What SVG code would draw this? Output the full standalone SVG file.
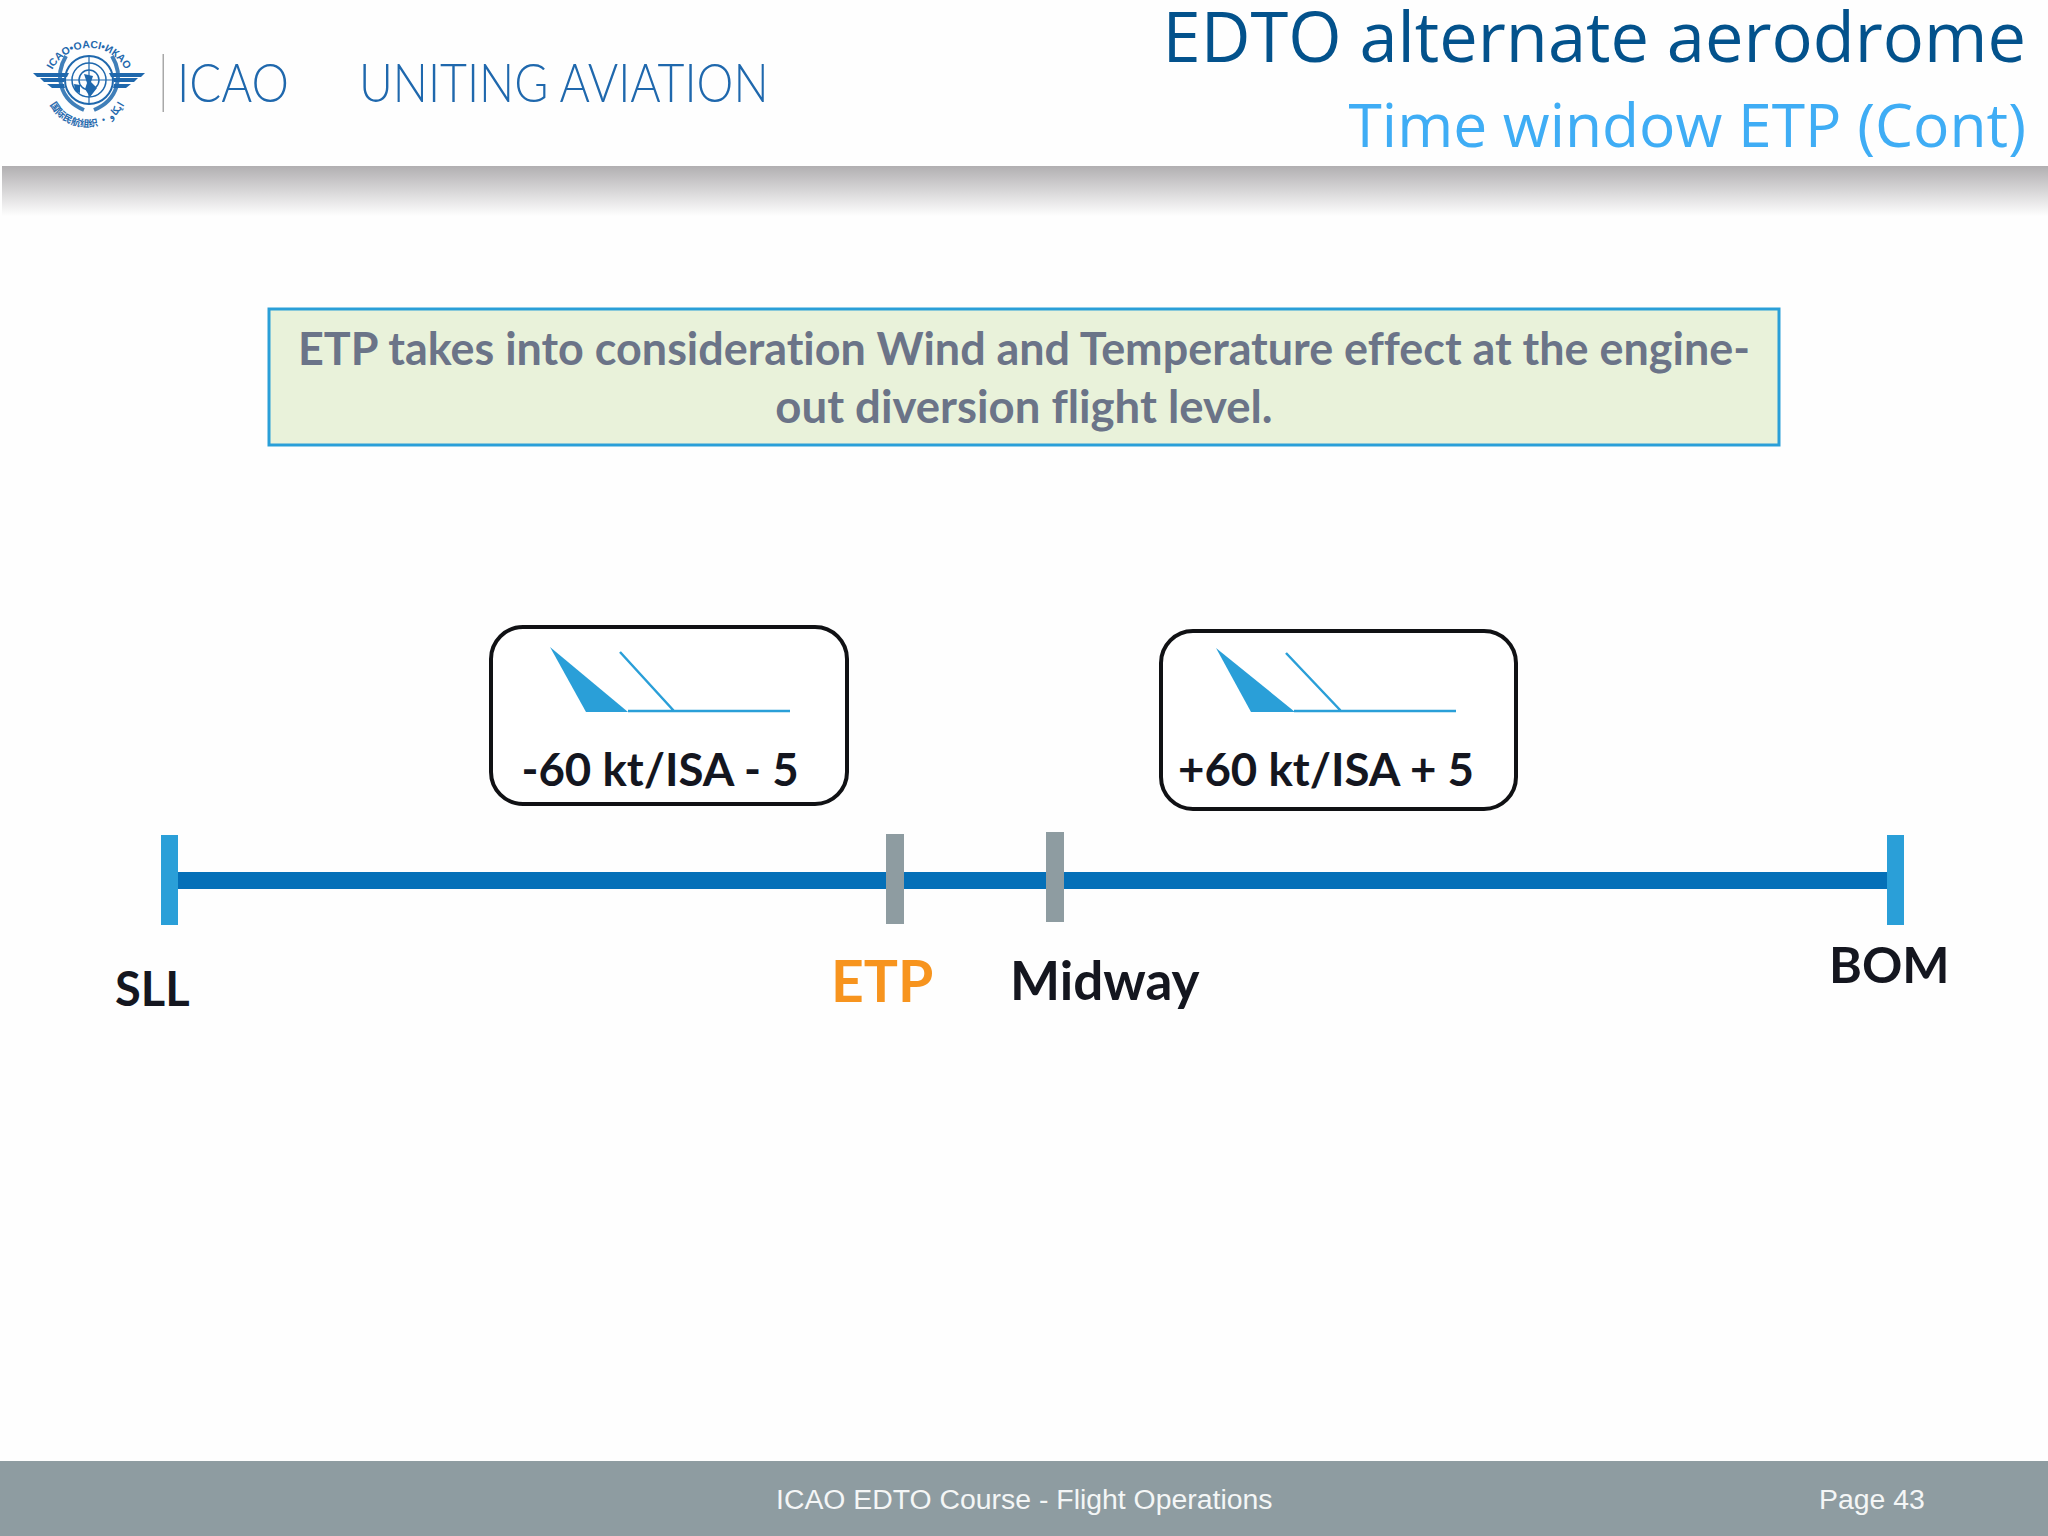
<svg xmlns="http://www.w3.org/2000/svg" width="2048" height="1536" viewBox="0 0 2048 1536">
<style>
.t{font-family:"Open Sans","Noto Sans",sans-serif}
.b{font-family:"Lato","Open Sans",sans-serif;font-weight:700;font-variant-ligatures:none}
.k{fill:#14161f}
.f{font-family:"Liberation Sans",Arial,sans-serif;font-size:28.4px;fill:#f4f6f6}
.l{font-family:"Lato","Open Sans",sans-serif;font-weight:300;fill:#1f68ad;font-size:54px}
.box{fill:#fff;stroke:#101114;stroke-width:4}
.tick{fill:#8e9ca1}
.end{fill:#2a9fd8}
.barb{fill:none;stroke:#2a9fd8;stroke-width:2.5}
.wing{fill:#1f68ad}
.ring{fill:none;stroke:#1f68ad}
.note{font-size:44.900px;fill:#6b7488}
</style>
<defs>
<linearGradient id="shade" x1="0" y1="0" x2="0" y2="1"><stop offset="0" stop-color="#b1afb1"/><stop offset="1" stop-color="#fefefe"/></linearGradient>
<path id="arcTop" d="M47 90 A42 42 0 0 1 131 90"/>
<path id="arcBot" d="M45 85 A42 42 0 0 0 129 85"/>
</defs>
<rect width="2048" height="1536" fill="#fefefe"/>
<g id="header">
<rect x="2" y="166" width="2046" height="50" fill="url(#shade)"/>
<g id="logo">
<text font-family="Liberation Sans,sans-serif" font-size="10.500" font-weight="700" fill="#1f68ad"><textPath href="#arcTop" startOffset="50%" text-anchor="middle">ICAO•OACI•ИКАО</textPath></text>
<text font-family="Noto Sans CJK SC,sans-serif" font-size="9.500" font-weight="700" fill="#1f68ad"><textPath href="#arcBot" startOffset="50%" text-anchor="middle">国际民航组织 • ايكاو</textPath></text>
<path class="ring" d="M66 56C54 76 60 100 84 110M112 56C124 76 118 100 94 110" stroke-width="4" opacity=".85"/>
<circle class="ring" cx="89" cy="80" r="24" stroke-width="2"/>
<circle class="ring" cx="89" cy="80" r="17" stroke-width="1.500"/>
<circle class="ring" cx="89" cy="80" r="10" stroke-width="1.500"/>
<path class="ring" d="M65 80H113M89 56V104" stroke-width="1.200"/>
<path class="wing" d="M84 74l9 2-2 6 6 6-7 9-5-8 2-6zM74 84l6 1 0 8-5-2z"/>
<path class="wing" d="M33 73H69L67 77H37ZM40 78H65L64 82H44ZM47 84H64L65 88H52ZM145 73H109L111 77H141ZM138 78H113L114 82H134ZM131 84H114L113 88H126Z"/>
</g>
<rect x="162.500" y="54" width="1.500" height="58" fill="#a8a8a8"/>
<text class="l" x="177" y="102" textLength="112" lengthAdjust="spacingAndGlyphs">ICAO</text>
<text class="l" x="359" y="102" textLength="409.500" lengthAdjust="spacingAndGlyphs">UNITING AVIATION</text>
<text class="t" x="2026" y="62" text-anchor="end" font-size="68.600" fill="#03528c">EDTO alternate aerodrome</text>
<text class="t" x="2026" y="147" text-anchor="end" font-size="60.500" fill="#3fadf5">Time window ETP (Cont)</text>
</g>
<g id="note">
<rect x="269" y="309" width="1510" height="136" fill="#e9f2da" stroke="#2a9fd8" stroke-width="3"/>
<text class="b note" x="1024" y="365" text-anchor="middle">ETP takes into consideration Wind and Temperature effect at the engine-</text>
<text class="b note" x="1024" y="423" text-anchor="middle" style="font-size:45.500px">out diversion flight level.</text>
</g>
<g id="connectors">
<rect x="176" y="872" width="1712" height="17" fill="#0570b8"/>
</g>
<g id="wind-minus">
<rect class="box" x="491" y="627" width="356" height="177" rx="32"/>
<path class="end" d="M550 647L586 712H628L550 647Z"/>
<path class="barb" d="M628 711H790M620 652L674 711"/>
<text class="b k" x="660" y="786" text-anchor="middle" font-size="45.600">-60 kt/ISA - 5</text>
</g>
<g id="wind-plus">
<rect class="box" x="1161" y="631" width="355" height="178" rx="32"/>
<path class="end" d="M1216 648L1251 712H1295L1216 648Z"/>
<path class="barb" d="M1294 711H1456M1286 653L1341 711"/>
<text class="b k" x="1326" y="786" text-anchor="middle" font-size="45.600">+60 kt/ISA + 5</text>
</g>
<g id="SLL"><rect class="end" x="161" y="835" width="17" height="90"/><text class="b k" x="115" y="1006" font-size="47">SLL</text></g>
<g id="ETP"><rect class="tick" x="886" y="834" width="18" height="90"/><text class="b" x="831" y="1002" font-size="57" fill="#f7941e">ETP</text></g>
<g id="Midway"><rect class="tick" x="1046" y="832" width="18" height="90"/><text class="b k" x="1010" y="1000" font-size="53">Midway</text></g>
<g id="BOM"><rect class="end" x="1887" y="835" width="17" height="90"/><text class="b k" x="1829" y="983" font-size="50">BOM</text></g>
<g id="footer">
<rect y="1461" width="2048" height="75" fill="#8e9ca1"/>
<text class="f" x="776" y="1509">ICAO EDTO Course - Flight Operations</text>
<text class="f" x="1819" y="1509">Page 43</text>
</g>
</svg>
